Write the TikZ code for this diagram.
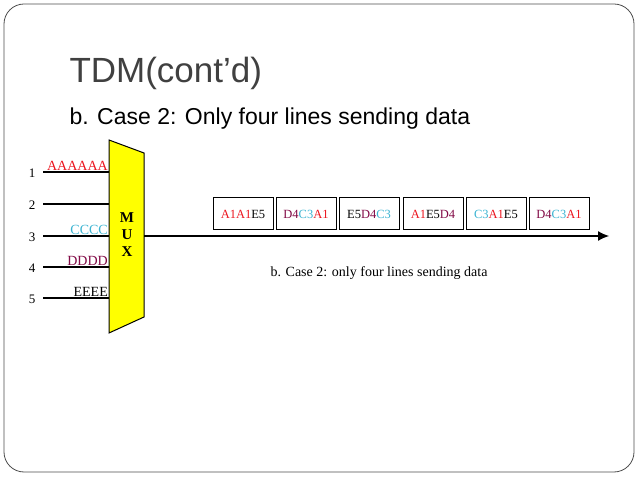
\documentclass[tikz,border=0pt]{standalone}
\usetikzlibrary{arrows.meta}
\usepackage{fontspec}
\setmainfont{Liberation Serif}
\newfontfamily\sansf{Liberation Sans}
\definecolor{cR}{RGB}{235,20,30}
\definecolor{cC}{RGB}{60,180,210}
\definecolor{cM}{RGB}{130,10,70}
\definecolor{mux}{RGB}{255,255,0}
\newcommand{\Ra}[1]{\textcolor{cR}{#1}}
\newcommand{\Ca}[1]{\textcolor{cC}{#1}}
\newcommand{\Ma}[1]{\textcolor{cM}{#1}}
\begin{document}
\begin{tikzpicture}[x=1pt,y=-1pt,
  frame/.style={draw,line width=1pt,minimum width=60pt,minimum height=32pt,inner sep=0pt,font=\fontsize{12.5}{14}\selectfont},
  inl/.style={line width=1.2pt},
  num/.style={font=\fontsize{13}{14}\selectfont},
  lab/.style={font=\fontsize{14}{16}\selectfont,anchor=south east,inner sep=1pt}]
\useasboundingbox (0,0) rectangle (638,478);
\draw[rounded corners=20pt,line width=0.8pt,black!70] (4,4) rectangle (634,472);
\node[anchor=west,font=\sansf\fontsize{35}{40}\selectfont,text=black!75] (title) at (66,73) {TDM(cont’d)};
\node[anchor=west,font=\sansf\fontsize{23}{26}\selectfont] (sub) at (66,119) {b. Case 2: Only four lines sending data};
\draw[fill=mux,line width=1pt] (109,140) -- (144,153) -- (144,317) -- (109,333) -- cycle;
\node[font=\fontsize{15}{17}\selectfont\bfseries,align=center] (m) at (127,235) {M\\U\\X};
\foreach \i/\y in {1/172,2/204,3/236,4/267,5/298}{
  \coordinate (s\i) at (43,\y); \coordinate (e\i) at (109,\y);
  \draw[inl] (s\i) -- (e\i);
  \node[num] (n\i) at (32,\y+1) {\i};
}
\node[lab,text=cR] (l1) at (e1) {AAAAAA};
\node[lab,text=cC] (l3) at (e3) {CCCC};
\node[lab,text=cM] (l4) at (e4) {DDDD};
\node[lab] (l5) at (e5) {EEEE};
\coordinate (o1) at (144,236); \coordinate (o2) at (609,236);
\draw[line width=1.2pt,-{Latex[length=11pt,width=10pt]}] (o1) -- (o2);
\node[frame] (f1) at (243,214) {\Ra{A1A1}E5};
\node[frame] (f2) at (306,214) {\Ma{D4}\Ca{C3}\Ra{A1}};
\node[frame] (f3) at (369,214) {E5\Ma{D4}\Ca{C3}};
\node[frame] (f4) at (433,214) {\Ra{A1}E5\Ma{D4}};
\node[frame] (f5) at (496,214) {\Ca{C3}\Ra{A1}E5};
\node[frame] (f6) at (559,214) {\Ma{D4}\Ca{C3}\Ra{A1}};
\node[font=\fontsize{14}{16}\selectfont] (cap) at (379,273) {b. Case 2: only four lines sending data};
\end{tikzpicture}
\end{document}
